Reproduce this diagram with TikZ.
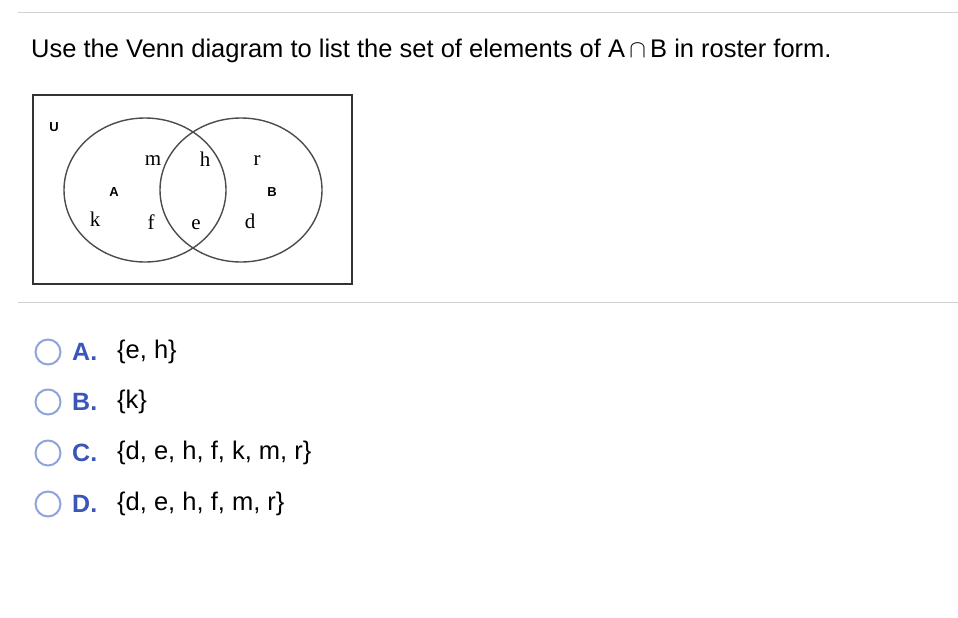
\documentclass[tikz,border=0pt]{standalone}
\usepackage{fontspec}
\setmainfont{Liberation Sans}
\newfontfamily\serifv{Liberation Serif}
\usepackage{amssymb}
\definecolor{optblue}{HTML}{3A56B8}
\definecolor{radioblue}{HTML}{8FA4DA}
\begin{document}
\begin{tikzpicture}[x=1pt,y=-1pt,
  rule/.style={draw=black!18,line width=1pt},
  venn/.style={draw=black!70,line width=1.4pt},
  el/.style={font=\serifv\fontsize{21}{21}\selectfont,inner sep=0pt},
  setlab/.style={font=\bfseries\fontsize{13}{13}\selectfont,inner sep=0pt},
  radio/.style={circle,draw=radioblue,line width=2pt,minimum size=25pt,inner sep=0pt},
  optlab/.style={font=\bfseries\fontsize{25}{25}\selectfont,text=optblue,anchor=west,inner sep=0pt},
  opttext/.style={font=\fontsize{25.5}{25.5}\selectfont,anchor=west,inner sep=0pt}]
\useasboundingbox (0,0) rectangle (958,618);
\coordinate (t1) at (18,13); \coordinate (t2) at (958,13);
\draw[rule] (t1) -- (t2);
\node[anchor=base west,inner sep=0pt,font=\fontsize{25.5}{25.5}\selectfont] (title) at (31,58) {Use the Venn diagram to list the set of elements of A\,$\cap$\,B in roster form.};
\node[draw=black!80,line width=1.5pt,minimum width=319pt,minimum height=189pt,inner sep=0pt] (U) at (192.5,189.5) {};
\draw[venn] (145,190) ellipse [x radius=81, y radius=72];
\draw[venn] (241,190) ellipse [x radius=81, y radius=72];
\node[setlab] (u) at (54,127) {U};
\node[setlab] (a) at (114,192) {A};
\node[setlab] (b) at (272,192) {B};
\node[el] (m) at (153,161) {m};
\node[el] (h) at (205,159) {h};
\node[el] (r) at (257,161) {r};
\node[el] (k) at (95,219) {k};
\node[el] (f) at (151,222) {f};
\node[el] (e) at (196,225) {e};
\node[el] (d) at (250,221) {d};
\coordinate (s1) at (18,302); \coordinate (s2) at (958,302);
\draw[rule] (s1) -- (s2);
\foreach \y/\l/\t [count=\i] in {352/A./{\{e, h\}},402/B./{\{k\}},453/C./{\{d, e, h, f, k, m, r\}},504/D./{\{d, e, h, f, m, r\}}}{
  \node[radio] (r\i) at (48,\y) {};
  \node[optlab] (l\i) at (72,\y) {\l};
  \node[opttext] (o\i) at (117,\y) {\t};
}
\end{tikzpicture}
\end{document}
